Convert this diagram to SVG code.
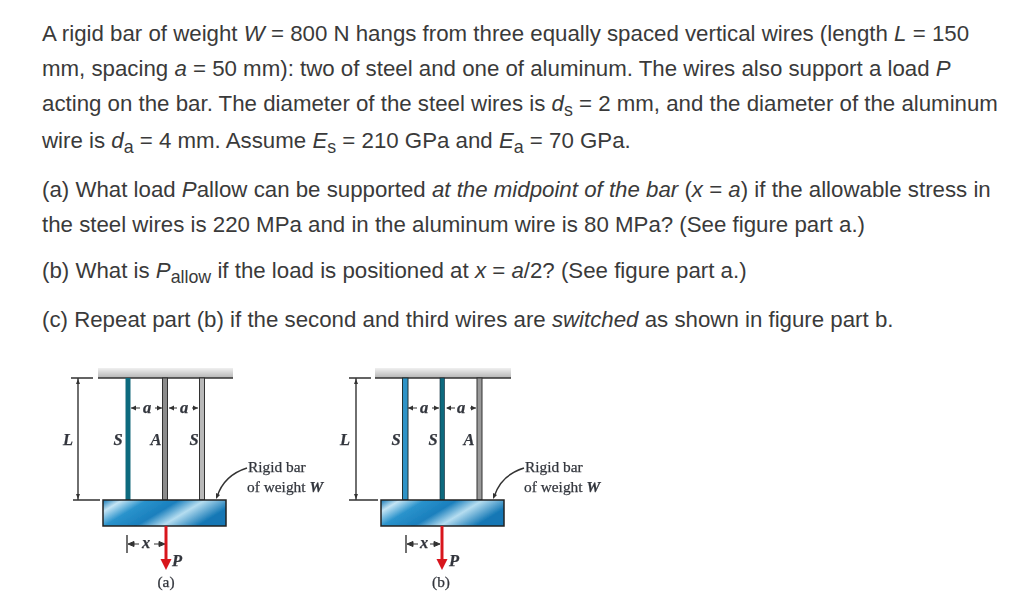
<svg xmlns="http://www.w3.org/2000/svg" width="1024" height="603" viewBox="0 0 1024 603">
<style>
.t{font-family:"Liberation Sans",Arial,sans-serif;font-size:22.27px;fill:#3a3a3a}
.s{font-size:17.8px}
.f{font-family:"Liberation Serif","Times New Roman",serif;fill:#33363d;font-size:15.4px;stroke:#33363d;stroke-width:.25}
.b{font-weight:bold;font-style:italic}
.n{font-size:16.500px}
.l{stroke:#333;stroke-width:1.4;fill:none}
.bar{fill:url(#barg);stroke:#222;stroke-width:1.5}
.red{stroke:#d8141f;stroke-width:3;fill:none}
.rh{fill:#d8141f}
</style>
<defs>
<linearGradient id="ceil" x1="0" y1="0" x2="0" y2="1"><stop offset="0" stop-color="#f0f0f0"/><stop offset="1" stop-color="#b4b4b4"/></linearGradient>
<linearGradient id="barg" x1="0" y1="0" x2="1" y2="0.35"><stop offset="0" stop-color="#1277b5"/><stop offset=".14" stop-color="#c4e4f4"/><stop offset=".32" stop-color="#2a93cc"/><stop offset=".55" stop-color="#1a7fbd"/><stop offset=".74" stop-color="#b5ddf0"/><stop offset="1" stop-color="#1277b5"/></linearGradient>
<filter id="soft" x="-5%" y="-5%" width="110%" height="110%"><feGaussianBlur stdDeviation="0.5"/></filter>
</defs>
<rect width="1024" height="603" fill="#fff"/>
<g id="problem-text">
<text class="t" x="42" y="41">A rigid bar of weight <tspan font-style="italic">W</tspan> = 800 N hangs from three equally spaced vertical wires (length <tspan font-style="italic">L</tspan> = 150</text>
<text class="t" x="42" y="76">mm, spacing <tspan font-style="italic">a</tspan> = 50 mm): two of steel and one of aluminum. The wires also support a load <tspan font-style="italic">P</tspan></text>
<text class="t" x="42" y="111">acting on the bar. The diameter of the steel wires is <tspan font-style="italic">d</tspan><tspan class="s" dy="5">s</tspan><tspan dy="-5"> = 2 mm, and the diameter of the aluminum</tspan></text>
<text class="t" x="42" y="148">wire is <tspan font-style="italic">d</tspan><tspan class="s" dy="5">a</tspan><tspan dy="-5"> = 4 mm. Assume </tspan><tspan font-style="italic">E</tspan><tspan class="s" dy="5">s</tspan><tspan dy="-5"> = 210 GPa and </tspan><tspan font-style="italic">E</tspan><tspan class="s" dy="5">a</tspan><tspan dy="-5"> = 70 GPa.</tspan></text>
<text class="t" x="42" y="197">(a) What load <tspan font-style="italic">P</tspan>allow can be supported <tspan font-style="italic">at the midpoint of the bar</tspan> (<tspan font-style="italic">x</tspan> = <tspan font-style="italic">a</tspan>) if the allowable stress in</text>
<text class="t" x="42" y="232">the steel wires is 220 MPa and in the aluminum wire is 80 MPa? (See figure part a.)</text>
<text class="t" x="42" y="278">(b) What is <tspan font-style="italic">P</tspan><tspan class="s" dy="5">allow</tspan><tspan dy="-5"> if the load is positioned at </tspan><tspan font-style="italic">x</tspan> = <tspan font-style="italic">a</tspan>/2? (See figure part a.)</text>
<text class="t" x="42" y="327">(c) Repeat part (b) if the second and third wires are <tspan font-style="italic">switched</tspan> as shown in figure part b.</text>
</g>
<g id="figure-a" filter="url(#soft)">
<rect x="98" y="368" width="135" height="10" fill="url(#ceil)"/>
<path class="l" d="M98 378H233M71 378H93M73 500H100M78 378V500"/>
<path d="M78 379l-2 5h4zM78 499l-2-5h4z" fill="#333"/>
<rect x="125.500" y="378" width="5" height="122" fill="#0f6b7e"/>
<rect x="162.500" y="378" width="5" height="122" fill="#8c8c8c" stroke="#333" stroke-width="1"/>
<rect x="199.500" y="378" width="5" height="122" fill="#b8b8b8" stroke="#333" stroke-width="1"/>
<rect class="bar" x="103" y="500" width="123" height="26"/>
<path d="M131 408H140M155 408H162M169 408H177M192 408H198" stroke="#333" stroke-width="1.200"/>
<path d="M131 408l5-2.500v5zM162 408l-5-2.500v5zM169 408l5-2.500v5zM198 408l-5-2.500v5z" fill="#333"/>
<text class="f b n" x="147" y="413" text-anchor="middle">a</text>
<text class="f b n" x="184" y="413" text-anchor="middle">a</text>
<text class="f b n" x="68" y="445" text-anchor="middle">L</text>
<text class="f b n" x="118" y="445" text-anchor="middle">S</text>
<text class="f b n" x="156" y="445" text-anchor="middle">A</text>
<text class="f b n" x="194" y="445" text-anchor="middle">S</text>
<path class="l" d="M247 468C231 473 221 484 217 497"/>
<path d="M216 499l0-6 4 2z" fill="#333"/>
<text class="f" x="248" y="472">Rigid bar</text>
<text class="f" x="247" y="492">of weight <tspan class="b">W</tspan></text>
<path class="l" d="M127 535V553"/>
<path d="M128 544l6-2.500v5zM165 544l-6-2.500v5zM134 544h5M154 544h5" fill="#333" stroke="#333" stroke-width="1"/>
<text class="f b n" x="146" y="548" text-anchor="middle">x</text>
<path class="red" d="M166 526V562"/>
<path class="rh" d="M160.500 559h11L166 570z"/>
<text class="f b n" x="172" y="566">P</text>
<text class="f" x="166" y="587" text-anchor="middle" font-size="14">(a)</text>
</g>
<g id="figure-b" filter="url(#soft)">
<rect x="375" y="368" width="136" height="10" fill="url(#ceil)"/>
<path class="l" d="M375 378H511M349 378H371M349 500H378M356 378V500"/>
<path d="M356 379l-2 5h4zM356 499l-2-5h4z" fill="#333"/>
<rect x="402.500" y="378" width="5.500" height="122" fill="#2f93c6" stroke="#233" stroke-width="1"/>
<rect x="440" y="378" width="4.500" height="122" fill="#0f6b7e" stroke="#123" stroke-width=".6"/>
<rect x="477" y="378" width="5" height="122" fill="#9a9a9a" stroke="#333" stroke-width="1"/>
<rect class="bar" x="381" y="500" width="123" height="26"/>
<path d="M408 408h9M432 408h7M447 408h8M470 408h6" stroke="#333" stroke-width="1.200"/>
<path d="M408 408l5-2.500v5zM439 408l-5-2.500v5zM446 408l5-2.500v5zM476 408l-5-2.500v5z" fill="#333"/>
<text class="f b n" x="424" y="413" text-anchor="middle">a</text>
<text class="f b n" x="461" y="413" text-anchor="middle">a</text>
<text class="f b n" x="345" y="445" text-anchor="middle">L</text>
<text class="f b n" x="396" y="445" text-anchor="middle">S</text>
<text class="f b n" x="433" y="445" text-anchor="middle">S</text>
<text class="f b n" x="469" y="445" text-anchor="middle">A</text>
<path class="l" d="M524 468C508 473 498 484 494 497"/>
<path d="M493 499l0-6 4 2z" fill="#333"/>
<text class="f" x="525" y="472">Rigid bar</text>
<text class="f" x="524" y="492">of weight <tspan class="b">W</tspan></text>
<path class="l" d="M406 535V553"/>
<path d="M407 544l6-2.500v5zM440 544l-6-2.500v5zM413 544h5M430 544h5" fill="#333" stroke="#333" stroke-width="1"/>
<text class="f b n" x="424" y="548" text-anchor="middle">x</text>
<path class="red" d="M442 526V562"/>
<path class="rh" d="M436.500 559h11L442 570z"/>
<text class="f b n" x="449" y="566">P</text>
<text class="f" x="441" y="587" text-anchor="middle" font-size="14">(b)</text>
</g>
</svg>
